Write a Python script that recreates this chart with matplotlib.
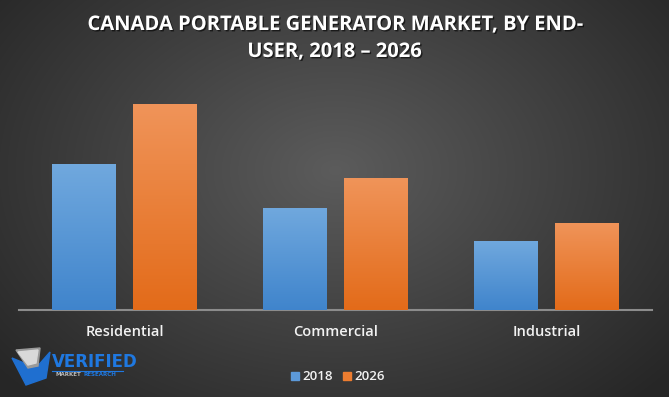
import numpy as np
import matplotlib.pyplot as plt
from matplotlib.patches import Polygon, Rectangle
import matplotlib.patheffects as pe

# data (relative units, no axis shown)
categories = ["Residential", "Commercial", "Industrial"]
years = ["2018", "2026"]
vals_2018 = [1.46, 1.02, 0.69]
vals_2026 = [2.06, 1.32, 0.87]

W, H = 669, 397
fig = plt.figure(figsize=(W / 100, H / 100), dpi=100)

# radial dark background
bg = fig.add_axes([0, 0, 1, 1])
yy, xx = np.mgrid[0:H, 0:W]
r = np.sqrt(((xx - 335) / 420.0) ** 2 + ((yy - 170) / 300.0) ** 2)
shade = np.clip(0.36 - 0.20 * r, 0.15, 0.36)
bg.imshow(np.dstack([shade] * 3), extent=[0, W, H, 0], aspect="auto")
bg.set_xlim(0, W)
bg.set_ylim(H, 0)
bg.axis("off")

# main axes
ax = fig.add_axes([19 / W, 1 - 310 / H, (652 - 19) / W, 220 / H])
ax.set_facecolor("none")
x = np.arange(len(categories))
bw = 0.303
off = 0.192

def grad_bars(xpos, vals, top, bottom):
    bars = ax.bar(xpos, vals, bw, color=bottom, edgecolor="none", zorder=2)
    g = np.linspace(0, 1, 100)[:, None, None]
    top = np.array(top)
    bottom = np.array(bottom)
    img = top * (1 - g) + bottom * g
    for b in bars:
        x0, y0 = b.get_x(), b.get_y()
        im = ax.imshow(img, extent=[x0, x0 + b.get_width(), y0, y0 + b.get_height()],
                       aspect="auto", zorder=3, origin="upper")
        im.set_clip_path(b)
    return bars

grad_bars(x - off, vals_2018, (0.44, 0.66, 0.87), (0.25, 0.52, 0.80))
grad_bars(x + off, vals_2026, (0.94, 0.58, 0.35), (0.89, 0.42, 0.10))

ax.set_xlim(-0.5, 2.5)
ax.set_ylim(0, 2.2)
ax.set_yticks([])
ax.set_xticks(x)
ax.set_xticklabels(categories, color="#f2f2f2", fontsize=10.5, fontfamily="Open Sans",
                   fontweight="semibold")
ax.tick_params(axis="x", length=0, pad=11)
for s in ["top", "right", "left"]:
    ax.spines[s].set_visible(False)
ax.spines["bottom"].set_color("#8c8c8c")
ax.spines["bottom"].set_linewidth(1.5)

# title
shadow = [pe.withSimplePatchShadow(offset=(1, -1), shadow_rgbFace="black", alpha=0.6)]
fig.text(0.5, 1 - 30 / H, "CANADA PORTABLE GENERATOR MARKET, BY END-", ha="center", va="baseline",
         color="white", fontsize=14.5, fontweight="bold", fontfamily="Open Sans",
         path_effects=shadow)
fig.text(0.5, 1 - 57 / H, "USER, 2018 \u2013 2026", ha="center", va="baseline",
         color="white", fontsize=14.5, fontweight="bold", fontfamily="Open Sans",
         path_effects=shadow)

# legend
leg_y = 1 - 376 / H
fig.patches.append(Rectangle((291 / W, leg_y - 4 / H), 8 / W, 8 / H, transform=fig.transFigure,
                             color=(0.36, 0.6, 0.85)))
fig.text(302 / W, leg_y, years[0], color="#f2f2f2", fontsize=9.5, va="center",
         fontfamily="Open Sans", fontweight="semibold")
fig.patches.append(Rectangle((343 / W, leg_y - 4 / H), 8 / W, 8 / H, transform=fig.transFigure,
                             color=(0.93, 0.49, 0.19)))
fig.text(354 / W, leg_y, years[1], color="#f2f2f2", fontsize=9.5, va="center",
         fontfamily="Open Sans", fontweight="semibold")

# logo
bg.add_patch(Polygon([[12, 358], [26, 385], [46, 378], [50, 352], [36, 368]], color="#1f6fd0"))
bg.add_patch(Polygon([[16, 350], [40, 348], [38, 366], [28, 368]], color="#9a9a9a"))
bg.add_patch(Polygon([[18, 352], [38, 350], [36, 363], [28, 365]], color="#d9d9d9"))
bg.text(52, 362, "VERIFIED", color="#1f78e0", fontsize=12, fontweight="bold",
        fontfamily="DejaVu Sans", va="center", ha="left")
bg.plot([52, 123], [371, 371], color="#1f78e0", lw=0.8)
bg.text(56, 374.5, "MARKET", color="#bbbbbb", fontsize=4, fontweight="bold", va="center")
bg.text(84, 374.5, "RESEARCH", color="#1f78e0", fontsize=4, fontweight="bold", va="center")

fig.savefig("out.png", dpi=100)
